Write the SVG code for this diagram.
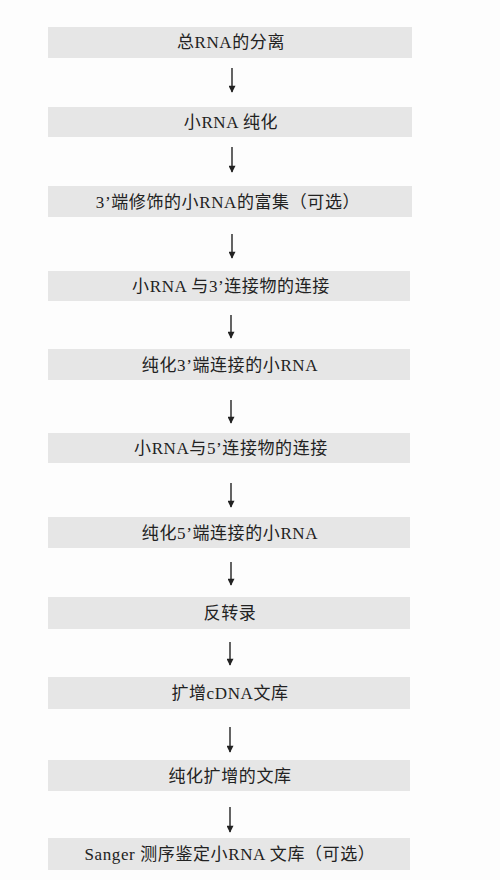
<svg xmlns="http://www.w3.org/2000/svg" width="500" height="880" viewBox="0 0 500 880">
<style>
.box{fill:#e6e6e6;}
.lbl{font-family:"Liberation Serif","Noto Sans CJK SC",serif;font-size:17px;letter-spacing:0.6px;fill:#222;text-anchor:middle;}
.con{stroke:#222;stroke-width:1.4;fill:none;marker-end:url(#ah);}
</style>
<defs>
<marker id="ah" viewBox="0 0 10 10" refX="9" refY="5" markerWidth="9" markerHeight="7" orient="auto" markerUnits="userSpaceOnUse">
<path d="M0,0 L10,5 L0,10 z" fill="#222"/>
</marker>
</defs>
<rect x="0" y="0" width="500" height="880" fill="#fdfdfd"/>
<g id="n1"><rect class="box" x="48" y="27" width="364" height="31"/><text class="lbl" x="231" y="48">总RNA的分离</text></g>
<g id="n2"><rect class="box" x="48" y="107" width="364" height="30"/><text class="lbl" x="231" y="128">小RNA 纯化</text></g>
<g id="n3"><rect class="box" x="48" y="186" width="364" height="31"/><text class="lbl" x="228" y="208">3’端修饰的小RNA的富集（可选）</text></g>
<g id="n4"><rect class="box" x="48" y="271" width="362" height="30"/><text class="lbl" x="231" y="292">小RNA 与3’连接物的连接</text></g>
<g id="n5"><rect class="box" x="48" y="349" width="362" height="31"/><text class="lbl" x="230" y="371">纯化3’端连接的小RNA</text></g>
<g id="n6"><rect class="box" x="48" y="433" width="362" height="30"/><text class="lbl" x="231" y="454">小RNA与5’连接物的连接</text></g>
<g id="n7"><rect class="box" x="48" y="517" width="362" height="31"/><text class="lbl" x="230" y="539">纯化5’端连接的小RNA</text></g>
<g id="n8"><rect class="box" x="48" y="597" width="362" height="32"/><text class="lbl" x="230" y="619">反转录</text></g>
<g id="n9"><rect class="box" x="48" y="677" width="362" height="32"/><text class="lbl" x="230" y="699">扩增cDNA文库</text></g>
<g id="n10"><rect class="box" x="48" y="760" width="362" height="31"/><text class="lbl" x="230" y="782">纯化扩增的文库</text></g>
<g id="n11"><rect class="box" x="48" y="838" width="362" height="32"/><text class="lbl" x="230" y="860">Sanger 测序鉴定小RNA 文库（可选）</text></g>
<g id="connectors">
<line class="con" x1="232" y1="68" x2="232" y2="92"/>
<line class="con" x1="232" y1="147" x2="232" y2="172"/>
<line class="con" x1="232" y1="234" x2="232" y2="258"/>
<line class="con" x1="231" y1="315" x2="231" y2="338"/>
<line class="con" x1="231" y1="400" x2="231" y2="423"/>
<line class="con" x1="231" y1="483" x2="231" y2="507"/>
<line class="con" x1="231" y1="562" x2="231" y2="585"/>
<line class="con" x1="230" y1="642" x2="230" y2="665"/>
<line class="con" x1="230" y1="727" x2="230" y2="752"/>
<line class="con" x1="230" y1="807" x2="230" y2="832"/>
</g>
</svg>
